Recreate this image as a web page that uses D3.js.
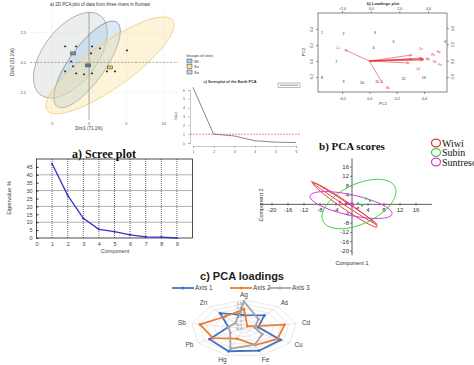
<!DOCTYPE html>
<html>
<head>
<meta charset="utf-8">
<title>PCA panels</title>
<script src="https://cdn.jsdelivr.net/npm/d3@7"></script>
<style>
  body { margin: 0; background: #fff; }
  text { font-family: "Liberation Sans", Arial, sans-serif; }
  .serif { font-family: "Liberation Serif", "Times New Roman", serif; }
</style>
</head>
<body>
<script>
// ---------- data ----------
// top-left 2D PCA plot (individuals)
const pcaDim1 = [-3.2, -1.73, 0.4, 0.27, 1.47, 5.07, -2.4, 2.4, 3.47, -3.2, -1.73, -0.67, 0.4, -2.13];
const pcaDim2 = [1.33, 1.33, 1.33, 0.75, 1.17, 1.0, 0.08, -0.75, -0.75, -0.75, -0.92, -1.0, -0.92, -0.33];
const siteGroups = ["Wi", "Su", "Sn"];
const groupMeanX = [-0.13, 2.8, -2.13];
const groupMeanY = [-0.25, -0.42, 0.75];
const groupEllC = [[-0.27, -0.17], [2.8, -0.25], [-2.5, 0.6]];
const groupEllA = [[4, 3.5], [8.4, 3.75], [4, 3.3]];
const groupEllB = [[1.95, -0.87], [1.7, -1.5], [2.9, -1.35]];

// small screeplot
const scree2Comp = [1, 2, 3, 4, 5, 6];
const scree2Val = [6.3, 1.0, 0.8, 0.25, 0.1, 0.05];

// loadings biplot
const loadElems = ["Cu", "As", "Zn", "Ag", "Pb", "Sb", "Fe", "Hg", "Cd"];
const loadPC1 = [-0.18, 0.095, 0.31, 0.31, 0.39, 0.40, 0.39, 0.38, 0.29];
const loadPC2 = [0.14, -0.275, 0.075, 0.025, 0.03, 0.02, 0.01, 0.035, -0.025];
const scoreX = [-3.4, -1.9, 0.3, 0.2, 1.6, 5.2, -2.4, -3.4, -1.9, -0.6, 0.45, 2.3, 3.7];
const scoreY = [3.4, 3.3, 3.4, 1.6, 2.3, 2.4, -0.1, -2, -2.6, -2.7, -2.6, -2.2, -2];

// a) scree plot
const screeComp = [1, 2, 3, 4, 5, 6, 7, 8, 9];
const screeEig = [47, 27, 12.5, 5.5, 4, 2, 0.7, 0.5, 0];

// b) PCA scores
const riverNames = ["Wiwi", "Subin", "Suntreso"];
const riverEllC = [[-1.75, -0.3], [-1.95, 0.6], [1.75, 0.13], [-0.25, -0.3]];
const riverEllA = [[8, -9.4], [8.2, -9.2], [9, 7.3], [10.25, -3.86]];
const riverEllB = [[-0.55, -1.3], [-0.25, -0.55], [2.1, -7.7], [-0.5, -4.3]];
const riverEllGroup = [0, 0, 1, 2];
const scorePtX = [-1.5, -3, 1.5, 3.5, 4.5, 2.5, 0, 1.5, -1];
const scorePtY = [0.3, 1, 0.5, 2.5, 1.5, -0.5, 0, -1.5, 0.5];
const scorePtGroup = [0, 0, 1, 1, 1, 1, 2, 2, 2];

// c) PCA loadings radar
const radarElems = ["Ag", "As", "Cd", "Cu", "Fe", "Hg", "Pb", "Sb", "Zn"];
const axis1 = [0.26, 0.44, -0.02, 0.72, 0.76, 0.79, 0.65, 0.02, 0.58];
const axis2 = [0.55, -0.26, 0.69, 0.62, 0.47, 0.13, 0.55, 0.78, 0.37];
const axis3 = [0.92, 0.2, -0.12, 0.16, 0.44, 0.65, 0.02, 0.02, -0.05];
const radarTicks = [-0.4, -0.2, 0, 0.2, 0.4, 0.6, 0.8];

// ---------- drawing ----------
const svg = d3.select("body").append("svg")
  .attr("width", 474).attr("height", 365);

function ellPoints(c, a, b) {
  return d3.range(73).map(function(i) {
    const t = i / 72 * 2 * Math.PI;
    return [c[0] + a[0] * Math.cos(t) + b[0] * Math.sin(t),
            c[1] + a[1] * Math.cos(t) + b[1] * Math.sin(t)];
  });
}

// ===== panel: 2D PCA plot =====
const x1 = d3.scaleLinear().domain([-7.9, 11.9]).range([30, 178]);
const y1 = d3.scaleLinear().domain([-4.8, 4.2]).range([120, 12]);
const g1 = svg.append("g");
[-5, 0, 5, 10].forEach(function(v) {
  g1.append("line").attr("x1", x1(v)).attr("x2", x1(v)).attr("y1", 12).attr("y2", 120)
    .attr("stroke", "#ececec").attr("stroke-width", 0.5);
});
[-2.5, 0, 2.5].forEach(function(v) {
  g1.append("line").attr("x1", 30).attr("x2", 178).attr("y1", y1(v)).attr("y2", y1(v))
    .attr("stroke", "#ececec").attr("stroke-width", 0.5);
});
const ellFill = ["#a9cbe6", "#f7e2a0", "#cfd3d3"];
const ellStroke = ["#5c7f98", "#e9c866", "#8e9494"];
const line1 = d3.line().x(d => x1(d[0])).y(d => y1(d[1]));
[2, 0, 1].forEach(function(k) {
  g1.append("path").attr("d", line1(ellPoints(groupEllC[k], groupEllA[k], groupEllB[k])))
    .attr("fill", ellFill[k]).attr("fill-opacity", 0.4)
    .attr("stroke", ellStroke[k]).attr("stroke-width", 0.7);
});
g1.append("line").attr("x1", 30).attr("x2", 178).attr("y1", y1(0)).attr("y2", y1(0))
  .attr("stroke", "#666").attr("stroke-width", 0.5).attr("stroke-dasharray", "2,1.5");
g1.append("line").attr("x1", x1(0)).attr("x2", x1(0)).attr("y1", 12).attr("y2", 120)
  .attr("stroke", "#666").attr("stroke-width", 0.5);
pcaDim1.forEach(function(d, i) {
  g1.append("rect").attr("x", x1(d) - 1).attr("y", y1(pcaDim2[i]) - 0.8)
    .attr("width", 2).attr("height", 1.6).attr("fill", "#333");
});
groupMeanX.forEach(function(d, i) {
  g1.append("rect").attr("x", x1(d) - 2.5).attr("y", y1(groupMeanY[i]) - 1.5)
    .attr("width", 5).attr("height", 3).attr("fill", ellStroke[i]).attr("stroke", "#333").attr("stroke-width", 0.5);
});
[-5, 0, 5, 10].forEach(function(v) {
  g1.append("text").attr("x", x1(v)).attr("y", 125).attr("text-anchor", "middle")
    .attr("font-size", 4).attr("fill", "#555").text(v);
});
[-2.5, 0, 2.5].forEach(function(v) {
  g1.append("text").attr("x", 26).attr("y", y1(v) + 1.5).attr("text-anchor", "end")
    .attr("font-size", 4).attr("fill", "#555").text(v.toFixed(1));
});
g1.append("text").attr("x", 100).attr("y", 6).attr("text-anchor", "middle")
  .attr("font-size", 4.5).attr("fill", "#333").text("a) 2D PCA plot of data from three rivers in Kumasi");
g1.append("text").attr("x", 89).attr("y", 130).attr("text-anchor", "middle")
  .attr("font-size", 4.5).attr("fill", "#333").text("Dim1 (71.1%)");
g1.append("text").attr("transform", "translate(14,62) rotate(-90)").attr("text-anchor", "middle")
  .attr("font-size", 4.5).attr("fill", "#333").text("Dim2 (21.1%)");
g1.append("text").attr("x", 186).attr("y", 57).attr("font-size", 4).attr("fill", "#333").text("Groups of sites");
siteGroups.forEach(function(s, i) {
  g1.append("rect").attr("x", 187).attr("y", 59 + i * 5.5).attr("width", 5).attr("height", 4)
    .attr("fill", ellFill[i]).attr("stroke", "#444").attr("stroke-width", 0.5);
  g1.append("text").attr("x", 194).attr("y", 62.5 + i * 5.5).attr("font-size", 4).attr("fill", "#333").text(s);
});

// ===== panel: small screeplot =====
const x2 = d3.scaleLinear().domain([1, 6]).range([193, 296]);
const y2 = d3.scaleLinear().domain([0, 6]).range([143, 90]);
const g2 = svg.append("g");
g2.append("g").attr("transform", "translate(190,0)")
  .call(d3.axisLeft(y2).ticks(6).tickSize(2))
  .call(g => g.selectAll("text").attr("font-size", 3.5).attr("fill", "#555"))
  .call(g => g.selectAll("line,path").attr("stroke", "#777").attr("stroke-width", 0.4));
g2.append("g").attr("transform", "translate(0,146)")
  .call(d3.axisBottom(x2).ticks(6).tickSize(2))
  .call(g => g.selectAll("text").attr("font-size", 3.5).attr("fill", "#555"))
  .call(g => g.selectAll("line,path").attr("stroke", "#777").attr("stroke-width", 0.4));
g2.append("line").attr("x1", 190).attr("x2", 300).attr("y1", y2(1)).attr("y2", y2(1))
  .attr("stroke", "#e8383d").attr("stroke-width", 0.6).attr("stroke-dasharray", "2,1");
g2.append("path").attr("d", d3.line().x((d, i) => x2(scree2Comp[i])).y(d => y2(d))(scree2Val))
  .attr("fill", "none").attr("stroke", "#555").attr("stroke-width", 0.7);
g2.append("rect").attr("x", 278).attr("y", 83).attr("width", 22).attr("height", 4.5)
  .attr("fill", "#fff").attr("stroke", "#777").attr("stroke-width", 0.5);
g2.append("line").attr("x1", 280).attr("x2", 298).attr("y1", 85.2).attr("y2", 85.2)
  .attr("stroke", "#999").attr("stroke-width", 1);
g2.append("text").attr("x", 230).attr("y", 83).attr("text-anchor", "middle").attr("font-weight", "bold")
  .attr("font-size", 3.8).attr("fill", "#333").text("c) Screeplot of the Earth PCA");
g2.append("text").attr("transform", "translate(177,116) rotate(-90)").attr("text-anchor", "middle")
  .attr("font-size", 3.5).attr("fill", "#555").text("Value");

// ===== panel: loadings biplot =====
const xL = d3.scaleLinear().domain([-0.2, 0.4]).range([342, 424]);
const yL = d3.scaleLinear().domain([-0.2, 0.4]).range([77, 29]);
const xS = d3.scaleLinear().domain([-2, 4]).range([342, 428]);
const yS = d3.scaleLinear().domain([-2, 4]).range([77, 28]);
const g3 = svg.append("g");
g3.append("rect").attr("x", 318).attr("y", 13).attr("width", 129).attr("height", 79)
  .attr("fill", "none").attr("stroke", "#333").attr("stroke-width", 0.6);
function styleAx(g) {
  g.select(".domain").remove();
  g.selectAll("line").attr("stroke", "#333").attr("stroke-width", 0.5);
  g.selectAll("text").attr("font-size", 3.6).attr("fill", "#333");
}
g3.append("g").attr("transform", "translate(0,92)")
  .call(d3.axisBottom(xL).tickValues([-0.2, 0, 0.2, 0.4]).tickFormat(d3.format(".1f")).tickSize(2)).call(styleAx);
g3.append("g").attr("transform", "translate(0,13)")
  .call(d3.axisTop(xS).tickValues([-2, 0, 2, 4]).tickSize(2).tickPadding(1)).call(styleAx);
g3.append("g").attr("transform", "translate(318,0)")
  .call(d3.axisLeft(yL).tickValues([-0.2, 0, 0.2, 0.4]).tickFormat(d3.format(".1f")).tickSize(2)).call(styleAx)
  .call(g => g.selectAll("text").attr("transform", "rotate(-90)").attr("text-anchor", "middle").attr("x", 0).attr("dy", 0).attr("y", -5));
g3.append("g").attr("transform", "translate(447,0)")
  .call(d3.axisRight(yS).tickValues([-2, 0, 2, 4]).tickSize(2)).call(styleAx)
  .call(g => g.selectAll("text").attr("transform", "rotate(-90)").attr("text-anchor", "middle").attr("x", 0).attr("dy", 0).attr("y", 7));
scoreX.forEach(function(d, i) {
  g3.append("text").attr("x", xS(d)).attr("y", yS(scoreY[i]) + 1.5).attr("text-anchor", "middle")
    .attr("font-size", 3.6).attr("fill", "#222").text(i + 1);
});
svg.append("defs").append("marker").attr("id", "ah").attr("viewBox", "0 0 10 10")
  .attr("refX", 9).attr("refY", 5).attr("markerWidth", 5).attr("markerHeight", 5).attr("orient", "auto")
  .append("path").attr("d", "M0,1L10,5L0,9").attr("fill", "none").attr("stroke", "#e8383d").attr("stroke-width", 1.5);
// label positions, pushed apart vertically where the arrows bunch up
const labPos = loadPC1.map(function(d, i) {
  return { i: i, x: xL(d * 1.12 + (d > 0 ? 0.03 : -0.03)), y: yL(loadPC2[i] * 1.2) };
});
const rightLabs = labPos.filter(p => p.x > 400).sort((a, b) => a.y - b.y);
const mid = d3.mean(rightLabs, p => p.y);
rightLabs.forEach(function(p, k) {
  p.y = mid + (k - (rightLabs.length - 1) / 2) * 3.3;
  p.x += (k % 2) * 7;
});
loadPC1.forEach(function(d, i) {
  g3.append("line").attr("x1", xL(0)).attr("y1", yL(0)).attr("x2", xL(d)).attr("y2", yL(loadPC2[i]))
    .attr("stroke", "#e8383d").attr("stroke-width", 0.6).attr("marker-end", "url(#ah)");
  g3.append("text").attr("x", labPos[i].x).attr("y", labPos[i].y + 1.1)
    .attr("text-anchor", "middle").attr("font-size", 3.1).attr("fill", "#e8383d").text(loadElems[i]);
});
g3.append("text").attr("x", 383).attr("y", 4.5).attr("text-anchor", "middle").attr("font-weight", "bold")
  .attr("font-size", 4.2).attr("fill", "#333").text("b) Loadings plot");
g3.append("text").attr("x", 383).attr("y", 105).attr("text-anchor", "middle")
  .attr("font-size", 4).attr("fill", "#333").text("PC1");
g3.append("text").attr("transform", "translate(305,52) rotate(-90)").attr("text-anchor", "middle")
  .attr("font-size", 4).attr("fill", "#333").text("PC2");

// ===== panel: a) Scree plot =====
const xA = d3.scaleLinear().domain([0, 10]).range([36.5, 192.5]);
const yA = d3.scaleLinear().domain([0, 50]).range([238, 159]);
const g4 = svg.append("g");
screeComp.forEach(function(c) {
  g4.append("line").attr("x1", xA(c)).attr("x2", xA(c)).attr("y1", yA(0)).attr("y2", yA(50))
    .attr("stroke", "#222").attr("stroke-width", 0.7).attr("stroke-dasharray", "1,1");
});
[10, 20, 30, 40].forEach(function(v) {
  g4.append("line").attr("x1", xA(0)).attr("x2", xA(10)).attr("y1", yA(v)).attr("y2", yA(v))
    .attr("stroke", "#222").attr("stroke-width", 0.7).attr("stroke-dasharray", "1,1");
});
g4.append("rect").attr("x", xA(0)).attr("y", yA(50)).attr("width", xA(10) - xA(0)).attr("height", yA(0) - yA(50))
  .attr("fill", "none").attr("stroke", "#222").attr("stroke-width", 0.8);
g4.append("g").attr("transform", "translate(0," + yA(0) + ")")
  .call(d3.axisBottom(xA).tickValues(d3.range(0, 10)).tickSize(0).tickPadding(4))
  .call(g => { g.select(".domain").remove(); g.selectAll("text").attr("font-size", 5.5).attr("fill", "#444"); });
g4.append("g").attr("transform", "translate(" + xA(0) + ",0)")
  .call(d3.axisLeft(yA).tickValues(d3.range(0, 50, 5)).tickSize(-2).tickPadding(4))
  .call(g => { g.select(".domain").remove(); g.selectAll("line").attr("stroke", "#222"); g.selectAll("text").attr("font-size", 5.5).attr("fill", "#444"); });
g4.append("path").attr("d", d3.line().x((d, i) => xA(screeComp[i])).y(d => yA(d))(screeEig))
  .attr("fill", "none").attr("stroke", "#3434c8").attr("stroke-width", 1.3);
screeEig.forEach(function(d, i) {
  g4.append("circle").attr("cx", xA(screeComp[i])).attr("cy", yA(d)).attr("r", 1.1).attr("fill", "#3434c8");
});
g4.append("text").attr("class", "serif").attr("x", 104).attr("y", 158).attr("text-anchor", "middle")
  .attr("font-weight", "bold").attr("font-size", 12).attr("fill", "#111").text("a) Scree plot");
g4.append("text").attr("x", 115).attr("y", 253).attr("text-anchor", "middle")
  .attr("font-size", 5.5).attr("fill", "#444").text("Component");
g4.append("text").attr("transform", "translate(11,198) rotate(-90)").attr("text-anchor", "middle")
  .attr("font-size", 5.5).attr("fill", "#444").text("Eigenvalue %");

// ===== panel: b) PCA scores =====
const xB = d3.scaleLinear().domain([-20, 16]).range([272, 416]);
const yB = d3.scaleLinear().domain([-20, 16]).range([251, 167]);
const g5 = svg.append("g");
const riverCol = ["#e8383d", "#3cd23c", "#d23cd8"];
const lineB = d3.line().x(d => xB(d[0])).y(d => yB(d[1]));
g5.append("line").attr("x1", xB(-23)).attr("x2", xB(20)).attr("y1", yB(0)).attr("y2", yB(0))
  .attr("stroke", "#333").attr("stroke-width", 0.8);
g5.append("line").attr("x1", xB(0)).attr("x2", xB(0)).attr("y1", yB(19.7)).attr("y2", yB(-21.8))
  .attr("stroke", "#333").attr("stroke-width", 0.8);
d3.range(-20, 17, 4).filter(v => v !== 0).forEach(function(v) {
  g5.append("line").attr("x1", xB(v)).attr("x2", xB(v)).attr("y1", yB(0) - 1.5).attr("y2", yB(0) + 1.5)
    .attr("stroke", "#333").attr("stroke-width", 0.6);
  g5.append("text").attr("x", xB(v)).attr("y", yB(0) + 7.5).attr("text-anchor", "middle")
    .attr("font-size", 6).attr("fill", "#333").text(v);
  g5.append("line").attr("x1", xB(0) - 2).attr("x2", xB(0)).attr("y1", yB(v)).attr("y2", yB(v))
    .attr("stroke", "#333").attr("stroke-width", 0.6);
  g5.append("text").attr("x", xB(0) - 3).attr("y", yB(v) + 2).attr("text-anchor", "end")
    .attr("font-size", 6).attr("fill", "#333").text(v);
});
riverEllC.forEach(function(c, k) {
  g5.append("path").attr("d", lineB(ellPoints(c, riverEllA[k], riverEllB[k])))
    .attr("fill", "none").attr("stroke", riverCol[riverEllGroup[k]]).attr("stroke-width", 1);
});
scorePtX.forEach(function(d, i) {
  g5.append("circle").attr("cx", xB(d)).attr("cy", yB(scorePtY[i])).attr("r", i === 6 ? 2 : 1.2)
    .attr("fill", riverCol[scorePtGroup[i]]);
});
g5.append("text").attr("class", "serif").attr("x", 352).attr("y", 150).attr("text-anchor", "middle")
  .attr("font-weight", "bold").attr("font-size", 11).attr("fill", "#111").text("b) PCA scores");
riverNames.forEach(function(n, i) {
  g5.append("ellipse").attr("cx", 436).attr("cy", 143 + i * 9.5).attr("rx", 4.5).attr("ry", 3.8)
    .attr("fill", "none").attr("stroke", riverCol[i]).attr("stroke-width", 1.3);
  g5.append("text").attr("class", "serif").attr("x", 442).attr("y", 146.5 + i * 9.5)
    .attr("font-size", 10).attr("fill", "#111").text(n);
});
g5.append("text").attr("x", 352).attr("y", 265).attr("text-anchor", "middle")
  .attr("font-size", 5.5).attr("fill", "#333").text("Component 1");
g5.append("text").attr("transform", "translate(263,205) rotate(-90)").attr("text-anchor", "middle")
  .attr("font-size", 5.5).attr("fill", "#333").text("Component 2");

// ===== panel: c) PCA loadings radar =====
const cx = 244, cy = 328.5, rx = 53, ry = 28.5;
const rScale = d3.scaleLinear().domain([-0.4, 1.0]).range([0, 1]);
const ang = d3.scaleLinear().domain([0, radarElems.length]).range([0, 2 * Math.PI]);
function rpt(i, v) {
  const a = ang(i), f = rScale(v);
  return [cx + Math.sin(a) * rx * f, cy - Math.cos(a) * ry * f];
}
const g6 = svg.append("g");
d3.range(-0.2, 1.01, 0.2).forEach(function(v) {
  g6.append("path").attr("d", d3.line()(radarElems.map((e, i) => rpt(i, v))) + "Z")
    .attr("fill", "none").attr("stroke", "#dedede").attr("stroke-width", 0.7);
});
radarElems.forEach(function(e, i) {
  const p = rpt(i, 1.0);
  g6.append("line").attr("x1", cx).attr("y1", cy).attr("x2", p[0]).attr("y2", p[1])
    .attr("stroke", "#dedede").attr("stroke-width", 0.7);
  const a = ang(i);
  g6.append("text").attr("x", cx + Math.sin(a) * (rx + 10)).attr("y", cy - Math.cos(a) * (ry + 5) + 2.2)
    .attr("text-anchor", "middle").attr("font-size", 6.5).attr("fill", "#444").text(e);
});
const radarCol = ["#4472c4", "#ed7d31", "#a5a5a5"];
[axis1, axis2, axis3].forEach(function(series, k) {
  g6.append("path").attr("d", d3.line()(series.map((v, i) => rpt(i, v))) + "Z")
    .attr("fill", "none").attr("stroke", radarCol[k]).attr("stroke-width", 1.8);
  series.forEach(function(v, i) {
    const p = rpt(i, v);
    g6.append("circle").attr("cx", p[0]).attr("cy", p[1]).attr("r", 1.4).attr("fill", radarCol[k]);
  });
});
radarTicks.forEach(function(v) {
  g6.append("text").attr("x", cx - 2).attr("y", cy - ry * rScale(v) + 1.3).attr("text-anchor", "end")
    .attr("font-size", 3.8).attr("fill", "#666").text(v === 0 ? "0" : v.toFixed(1));
});
g6.append("text").attr("x", 242).attr("y", 280).attr("text-anchor", "middle").attr("font-weight", "bold")
  .attr("font-size", 11).attr("fill", "#222").text("c)   PCA loadings");
["Axis 1", "Axis 2", "Axis 3"].forEach(function(n, k) {
  const lx = [172, 230, 269][k];
  g6.append("line").attr("x1", lx).attr("x2", lx + 22).attr("y1", 288).attr("y2", 288)
    .attr("stroke", radarCol[k]).attr("stroke-width", 1.8);
  g6.append("circle").attr("cx", lx + 11).attr("cy", 288).attr("r", 1.6).attr("fill", radarCol[k]);
  g6.append("text").attr("x", lx + 23).attr("y", 290.2).attr("font-size", 6.5).attr("fill", "#444").text(n);
});
</script>
</body>
</html>
